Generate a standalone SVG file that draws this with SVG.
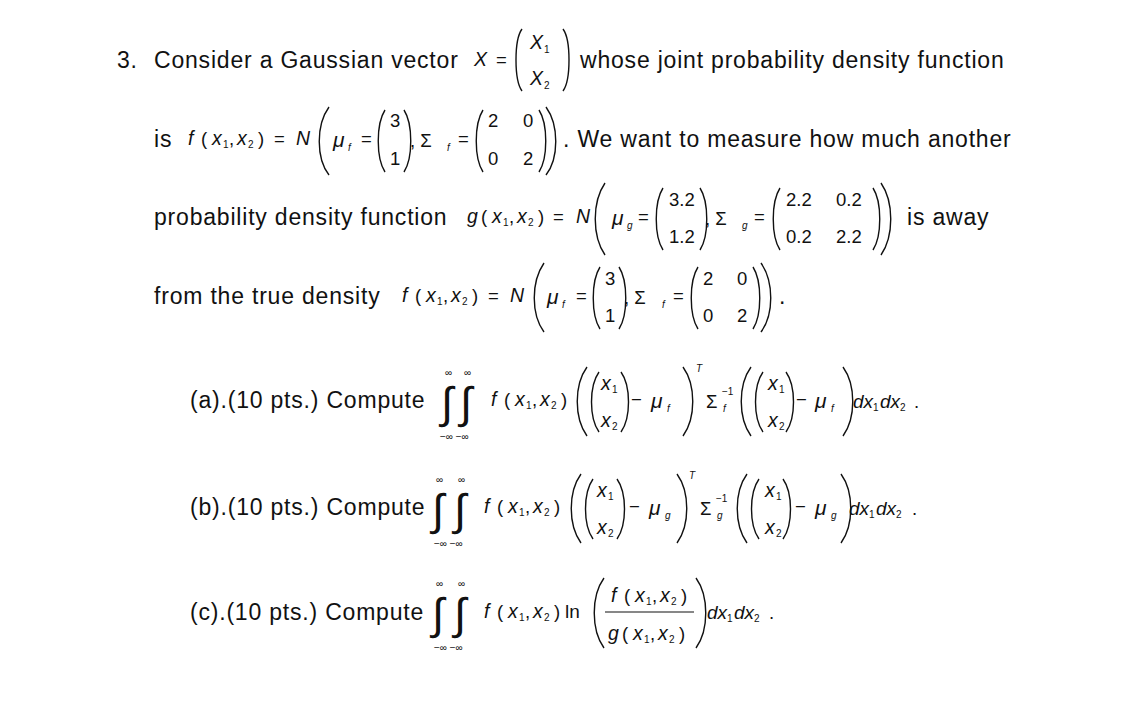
<svg xmlns="http://www.w3.org/2000/svg" width="1141" height="712" viewBox="0 0 1141 712">
<style>
text{font-family:"Liberation Sans",Arial,sans-serif;fill:#111}
.t{font-size:23px;letter-spacing:0.8px}
.m{font-size:19.5px;font-style:italic}
.n{font-size:18.5px}
.s{font-size:10px;font-style:italic}
.sn{font-size:10px}
.d{font-size:19px;font-style:italic}
.int{font-family:"DejaVu Sans",sans-serif;font-size:44px;font-weight:200}
.p{fill:none;stroke:#111;stroke-width:1.4}
</style>
<rect width="1141" height="712" fill="#fff"/>
<g id="line1">
<text class="t" x="117" y="68">3.</text>
<text class="t" x="154" y="68">Consider a Gaussian vector</text>
<text class="m" x="474" y="66">X</text><text class="n" x="496" y="66">=</text>
<path class="p" d="M522 29 C514 40 514 80 522 91"/>
<text class="m" x="530" y="49">X</text><text class="sn" x="544" y="53">1</text>
<text class="m" x="530" y="85">X</text><text class="sn" x="544" y="89">2</text>
<path class="p" d="M563 29 C571 40 571 80 563 91"/>
<text class="t" x="580" y="68">whose joint probability density function</text>
</g>
<g id="line2">
<text class="t" x="154" y="147">is</text>
<text class="m" x="188" y="145">f</text><text class="n" x="201" y="145">(</text>
<text class="m" x="212" y="145">x</text><text class="sn" x="223" y="148">1</text><text class="n" x="229" y="145">,</text>
<text class="m" x="237" y="145">x</text><text class="sn" x="248" y="148">2</text><text class="n" x="258" y="145">)</text>
<text class="n" x="274" y="145">=</text><text class="m" x="296" y="145">N</text>
<path class="p" d="M329 107 C316 125 316 158 329 175"/>
<text class="m" x="333" y="147" style="font-size:21px">μ</text><text class="s" x="348" y="151">f</text>
<text class="n" x="361" y="145">=</text>
<path class="p" d="M385 110 C376 124 376 158 385 172"/>
<text class="n" x="390" y="127">3</text><text class="n" x="390" y="165">1</text>
<path class="p" d="M404 110 C413 124 413 158 404 172"/>
<text class="n" x="410" y="147">, Σ</text><text class="s" x="447" y="151">f</text>
<text class="n" x="458" y="145">=</text>
<path class="p" d="M483 110 C474 124 474 158 483 172"/>
<text class="n" x="488" y="127">2</text><text class="n" x="523" y="127">0</text>
<text class="n" x="488" y="165">0</text><text class="n" x="523" y="165">2</text>
<path class="p" d="M539 110 C548 124 548 158 539 172"/>
<path class="p" d="M546 107 C559 125 559 158 546 175"/>
<text class="t" x="563" y="147">. We want to measure how much another</text>
</g>
<g id="line3">
<text class="t" x="154" y="225">probability density function</text>
<text class="m" x="467" y="223">g</text><text class="n" x="481" y="223">(</text>
<text class="m" x="492" y="223">x</text><text class="sn" x="503" y="226">1</text><text class="n" x="509" y="223">,</text>
<text class="m" x="517" y="223">x</text><text class="sn" x="528" y="226">2</text><text class="n" x="538" y="223">)</text>
<text class="n" x="553" y="223">=</text><text class="m" x="576" y="223">N</text>
<path class="p" d="M605 183 C592 202 592 236 605 255"/>
<text class="m" x="612" y="225" style="font-size:21px">μ</text><text class="s" x="627" y="229">g</text>
<text class="n" x="638" y="223">=</text>
<path class="p" d="M663 188 C654 202 654 236 663 250"/>
<text class="n" x="669" y="206">3.2</text><text class="n" x="669" y="243">1.2</text>
<path class="p" d="M700 188 C709 202 709 236 700 250"/>
<text class="n" x="705" y="225">, Σ</text><text class="s" x="742" y="229">g</text>
<text class="n" x="754" y="223">=</text>
<path class="p" d="M780 188 C771 202 771 236 780 250"/>
<text class="n" x="786" y="206">2.2</text><text class="n" x="836" y="206">0.2</text>
<text class="n" x="786" y="243">0.2</text><text class="n" x="836" y="243">2.2</text>
<path class="p" d="M873 188 C882 202 882 236 873 250"/>
<path class="p" d="M881 183 C894 202 894 236 881 255"/>
<text class="t" x="907" y="225">is away</text>
</g>
<g id="line4">
<text class="t" x="154" y="304">from the true density</text>
<text class="m" x="402" y="302">f</text><text class="n" x="415" y="302">(</text>
<text class="m" x="426" y="302">x</text><text class="sn" x="437" y="305">1</text><text class="n" x="443" y="302">,</text>
<text class="m" x="451" y="302">x</text><text class="sn" x="462" y="305">2</text><text class="n" x="472" y="302">)</text>
<text class="n" x="488" y="302">=</text><text class="m" x="510" y="302">N</text>
<path class="p" d="M544 263 C531 282 531 314 544 332"/>
<text class="m" x="547" y="304" style="font-size:21px">μ</text><text class="s" x="562" y="308">f</text>
<text class="n" x="576" y="302">=</text>
<path class="p" d="M600 267 C591 281 591 315 600 329"/>
<text class="n" x="605" y="285">3</text><text class="n" x="605" y="322">1</text>
<path class="p" d="M619 267 C628 281 628 315 619 329"/>
<text class="n" x="624" y="304">, Σ</text><text class="s" x="662" y="308">f</text>
<text class="n" x="673" y="302">=</text>
<path class="p" d="M698 267 C689 281 689 315 698 329"/>
<text class="n" x="703" y="285">2</text><text class="n" x="737" y="285">0</text>
<text class="n" x="703" y="322">0</text><text class="n" x="737" y="322">2</text>
<path class="p" d="M753 267 C762 281 762 315 753 329"/>
<path class="p" d="M761 263 C774 282 774 314 761 332"/>
<text class="t" x="779" y="304">.</text>
</g>
<g id="partA">
<text class="t" x="190" y="408">(a).(10 pts.)  Compute</text>
<text class="sn" x="445" y="376">∞</text><text class="sn" x="464" y="376">∞</text>
<text class="int" x="441" y="418">∫</text><text class="int" x="460" y="418">∫</text>
<text class="sn" x="440" y="440">−∞ −∞</text>
<text class="m" x="491" y="406">f</text><text class="n" x="504" y="406">(</text>
<text class="m" x="515" y="406">x</text><text class="sn" x="526" y="409">1</text><text class="n" x="532" y="406">,</text>
<text class="m" x="540" y="406">x</text><text class="sn" x="551" y="409">2</text><text class="n" x="561" y="406">)</text>
<path class="p" d="M587 367 C574 385 574 418 587 436"/>
<path class="p" d="M599 372 C589 386 589 418 599 432"/>
<text class="m" x="601" y="390">x</text><text class="sn" x="612" y="393">1</text>
<text class="m" x="601" y="427">x</text><text class="sn" x="612" y="430">2</text>
<path class="p" d="M621 372 C631 386 631 418 621 432"/>
<text class="n" x="631" y="406">−</text>
<text class="m" x="651" y="408" style="font-size:21px">μ</text><text class="s" x="667" y="412">f</text>
<path class="p" d="M683 367 C696 385 696 418 683 436"/>
<text class="s" x="696" y="372">T</text>
<text class="n" x="706" y="408">Σ</text><text class="s" x="723" y="412">f</text><text class="sn" x="722" y="395">−1</text>
<path class="p" d="M751 367 C738 385 738 418 751 436"/>
<path class="p" d="M763 372 C753 386 753 418 763 432"/>
<text class="m" x="768" y="390">x</text><text class="sn" x="779" y="393">1</text>
<text class="m" x="768" y="427">x</text><text class="sn" x="779" y="430">2</text>
<path class="p" d="M786 372 C796 386 796 418 786 432"/>
<text class="n" x="796" y="406">−</text>
<text class="m" x="815" y="408" style="font-size:21px">μ</text><text class="s" x="831" y="412">f</text>
<path class="p" d="M843 367 C856 385 856 418 843 436"/>
<text class="d" x="853" y="408">dx</text><text class="sn" x="873" y="411">1</text>
<text class="d" x="880" y="408">dx</text><text class="sn" x="900" y="411">2</text>
<text class="n" x="914" y="408">.</text>
</g>
<g id="partB">
<text class="t" x="190" y="515">(b).(10 pts.) Compute</text>
<text class="sn" x="436" y="483">∞</text><text class="sn" x="458" y="483">∞</text>
<text class="int" x="432" y="525">∫</text><text class="int" x="454" y="525">∫</text>
<text class="sn" x="434" y="547">−∞ −∞</text>
<text class="m" x="484" y="513">f</text><text class="n" x="497" y="513">(</text>
<text class="m" x="508" y="513">x</text><text class="sn" x="519" y="516">1</text><text class="n" x="525" y="513">,</text>
<text class="m" x="533" y="513">x</text><text class="sn" x="544" y="516">2</text><text class="n" x="554" y="513">)</text>
<path class="p" d="M581 474 C568 492 568 525 581 543"/>
<path class="p" d="M593 479 C583 493 583 525 593 539"/>
<text class="m" x="597" y="497">x</text><text class="sn" x="608" y="500">1</text>
<text class="m" x="597" y="534">x</text><text class="sn" x="608" y="537">2</text>
<path class="p" d="M617 479 C627 493 627 525 617 539"/>
<text class="n" x="629" y="513">−</text>
<text class="m" x="649" y="515" style="font-size:21px">μ</text><text class="s" x="665" y="519">g</text>
<path class="p" d="M677 474 C690 492 690 525 677 543"/>
<text class="s" x="689" y="479">T</text>
<text class="n" x="700" y="515">Σ</text><text class="s" x="717" y="519">g</text><text class="sn" x="716" y="502">−1</text>
<path class="p" d="M747 474 C734 492 734 525 747 543"/>
<path class="p" d="M759 479 C749 493 749 525 759 539"/>
<text class="m" x="765" y="497">x</text><text class="sn" x="776" y="500">1</text>
<text class="m" x="765" y="534">x</text><text class="sn" x="776" y="537">2</text>
<path class="p" d="M783 479 C793 493 793 525 783 539"/>
<text class="n" x="795" y="513">−</text>
<text class="m" x="815" y="515" style="font-size:21px">μ</text><text class="s" x="831" y="519">g</text>
<path class="p" d="M841 474 C854 492 854 525 841 543"/>
<text class="d" x="849" y="515">dx</text><text class="sn" x="869" y="518">1</text>
<text class="d" x="876" y="515">dx</text><text class="sn" x="896" y="518">2</text>
<text class="n" x="912" y="515">.</text>
</g>
<g id="partC">
<text class="t" x="190" y="620">(c).(10 pts.) Compute</text>
<text class="sn" x="436" y="587">∞</text><text class="sn" x="458" y="587">∞</text>
<text class="int" x="432" y="629">∫</text><text class="int" x="454" y="629">∫</text>
<text class="sn" x="434" y="651">−∞ −∞</text>
<text class="m" x="484" y="618">f</text><text class="n" x="497" y="618">(</text>
<text class="m" x="508" y="618">x</text><text class="sn" x="519" y="621">1</text><text class="n" x="525" y="618">,</text>
<text class="m" x="533" y="618">x</text><text class="sn" x="544" y="621">2</text><text class="n" x="554" y="618">)</text>
<text class="n" x="565" y="618" style="font-size:19px">ln</text>
<path class="p" d="M604 578 C591 596 591 630 604 648"/>
<text class="m" x="611" y="602">f</text><text class="n" x="624" y="602">(</text>
<text class="m" x="635" y="602">x</text><text class="sn" x="646" y="605">1</text><text class="n" x="652" y="602">,</text>
<text class="m" x="660" y="602">x</text><text class="sn" x="671" y="605">2</text><text class="n" x="681" y="602">)</text>
<line x1="605" y1="612" x2="694" y2="612" stroke="#111" stroke-width="1.2"/>
<text class="m" x="608" y="640">g</text><text class="n" x="622" y="640">(</text>
<text class="m" x="633" y="640">x</text><text class="sn" x="644" y="643">1</text><text class="n" x="650" y="640">,</text>
<text class="m" x="658" y="640">x</text><text class="sn" x="669" y="643">2</text><text class="n" x="679" y="640">)</text>
<path class="p" d="M696 578 C709 596 709 630 696 648"/>
<text class="d" x="707" y="619">dx</text><text class="sn" x="727" y="622">1</text>
<text class="d" x="734" y="619">dx</text><text class="sn" x="754" y="622">2</text>
<text class="n" x="769" y="619">.</text>
</g>
</svg>
